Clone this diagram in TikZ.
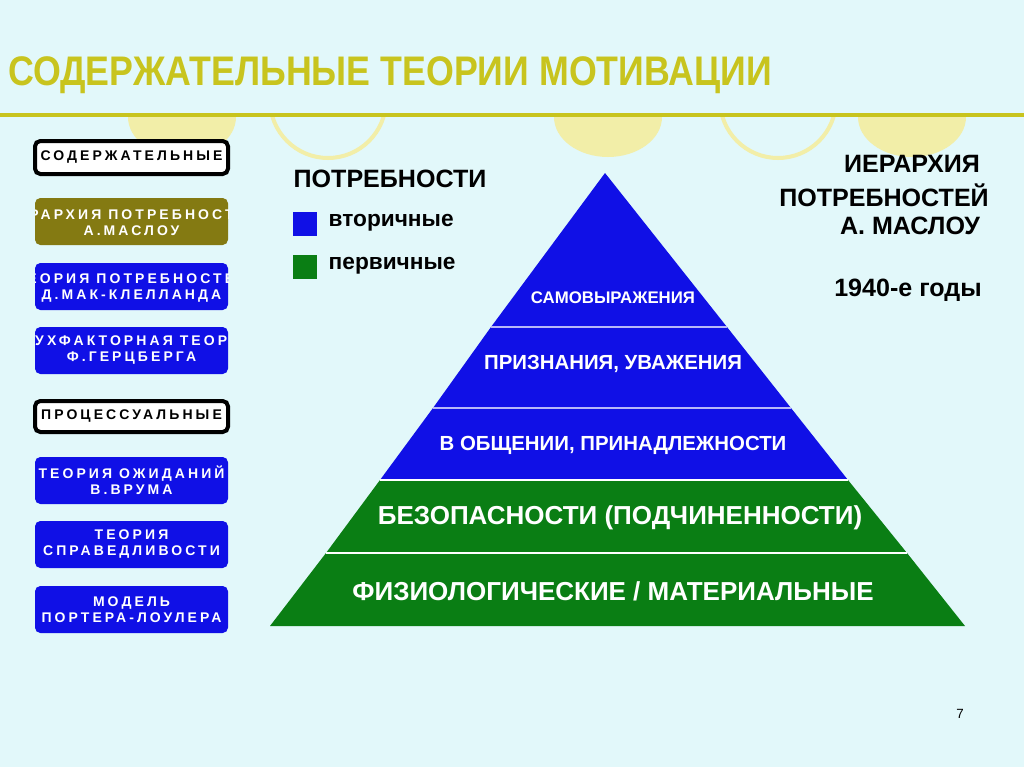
\documentclass[tikz,border=0pt]{standalone}
\usepackage{fontspec}
\setmainfont{Liberation Sans}
\newfontfamily\spaced[LetterSpace=22]{Liberation Sans}
\definecolor{bgc}{HTML}{E2F8FA}
\definecolor{titc}{HTML}{C8C41E}
\definecolor{deco}{HTML}{F2EEA8}
\definecolor{pblue}{HTML}{1010E6}
\definecolor{pgreen}{HTML}{0A7E14}
\definecolor{olive}{HTML}{847A12}
\tikzset{
 btn/.style={rounded corners=4pt},
 btxt/.style={text=white,font=\spaced\bfseries\fontsize{10.5}{12}\selectfont,align=center},
 ptxt/.style={text=white,font=\bfseries},
 dtxt/.style={text=black,font=\bfseries\fontsize{18.8}{22}\selectfont,align=center}
}
\begin{document}
\begin{tikzpicture}[x=0.75pt,y=-0.75pt]
\fill[bgc] (0,0) rectangle (1024,767);
\useasboundingbox (0,0) rectangle (1024,767);
% decorations
\foreach \c in {182,608,912}{\fill[deco] (\c-54,117) arc[start angle=180,end angle=0,x radius=54,y radius=40] -- cycle;}
\foreach \c in {328,778}{\draw[deco,line width=3pt] (\c-58,100) arc[start angle=180,end angle=0,radius=58];}
\fill[bgc] (0,0) rectangle (1024,113);
\node[anchor=west,text=titc,font=\bfseries\fontsize{31}{34}\selectfont,inner sep=0] (title) at (8,75) {\scalebox{0.865}[1]{СОДЕРЖАТЕЛЬНЫЕ ТЕОРИИ МОТИВАЦИИ}};
\draw[titc,line width=3pt] (0,115) -- (1024,115);
% left buttons
\draw[btn,fill=white,line width=3pt] (35,141) rectangle (228,174);
\node[btxt,text=black] (b0) at (131.5,157.5) {СОДЕРЖАТЕЛЬНЫЕ};
\draw[btn,fill=white,line width=3pt] (35,401) rectangle (228,432);
\node[btxt,text=black] (b4) at (131.5,416.5) {ПРОЦЕССУАЛЬНЫЕ};
\foreach \y/\col/\a/\b [count=\i] in {
 198/olive/ИЕРАРХИЯ ПОТРЕБНОСТЕЙ/А.МАСЛОУ,
 263/pblue/ТЕОРИЯ ПОТРЕБНОСТЕЙ/Д.МАК-КЛЕЛЛАНДА,
 327/pblue/ДВУХФАКТОРНАЯ ТЕОРИЯ/Ф.ГЕРЦБЕРГА,
 457/pblue/ТЕОРИЯ ОЖИДАНИЙ/В.ВРУМА,
 521/pblue/ТЕОРИЯ/СПРАВЕДЛИВОСТИ,
 586/pblue/МОДЕЛЬ/ПОРТЕРА-ЛОУЛЕРА}{
 \begin{scope}
 \fill[btn,\col] (35,\y) rectangle (228,\y+47);
 \clip (35,\y) rectangle (228,\y+47);
 \node[btxt] (bt\i) at (131.5,\y+23.5) {\a\\\b};
 \end{scope}}
% legend
\node[dtxt] (leg) at (390,179) {ПОТРЕБНОСТИ};
\fill[pblue] (293,212) rectangle (317,236);
\node[dtxt,anchor=west,font=\bfseries\fontsize{17}{20}\selectfont] (l1) at (324,223) {вторичные};
\fill[pgreen] (293,255) rectangle (317,279);
\node[dtxt,anchor=west,font=\bfseries\fontsize{17}{20}\selectfont] (l2) at (324,266) {первичные};
% right text
\node[dtxt] (r1) at (912,164) {ИЕРАРХИЯ};
\node[dtxt] (r2) at (884,195) {ПОТРЕБНОСТЕЙ};
\node[dtxt] (r3) at (910,226) {А. МАСЛОУ};
\node[dtxt] (r4) at (908,290) {1940-е годы};
% pyramid
\fill[pblue] (605,173) -- (727,327) -- (491,327) -- cycle;
\fill[pblue] (491,327) -- (727,327) -- (791,408) -- (433,408) -- cycle;
\fill[pblue] (433,408) -- (791,408) -- (848,480) -- (380,480) -- cycle;
\fill[pgreen] (380,480) -- (848,480) -- (907,553) -- (326,553) -- cycle;
\fill[pgreen] (326,553) -- (907,553) -- (965,626) -- (270,626) -- cycle;
\draw[white!70!pblue,line width=1pt] (491,327) -- (727,327) (433,408) -- (791,408);
\draw[white,line width=1pt] (380,480) -- (848,480) (326,553) -- (907,553);
\node[ptxt,font=\bfseries\fontsize{12.6}{14}\selectfont] (p1) at (613,298) {САМОВЫРАЖЕНИЯ};
\node[ptxt,font=\bfseries\fontsize{15.3}{17}\selectfont] (p2) at (613,364) {ПРИЗНАНИЯ, УВАЖЕНИЯ};
\node[ptxt,font=\bfseries\fontsize{15.3}{17}\selectfont] (p3) at (613,445) {В ОБЩЕНИИ, ПРИНАДЛЕЖНОСТИ};
\node[ptxt,font=\bfseries\fontsize{19.5}{22}\selectfont] (p4) at (620,518) {БЕЗОПАСНОСТИ (ПОДЧИНЕННОСТИ)};
\node[ptxt,font=\bfseries\fontsize{19.5}{22}\selectfont] (p5) at (613,591) {ФИЗИОЛОГИЧЕСКИЕ / МАТЕРИАЛЬНЫЕ};
\node[font=\fontsize{10}{12}\selectfont] (pg) at (960,714) {7};
\end{tikzpicture}
\end{document}
